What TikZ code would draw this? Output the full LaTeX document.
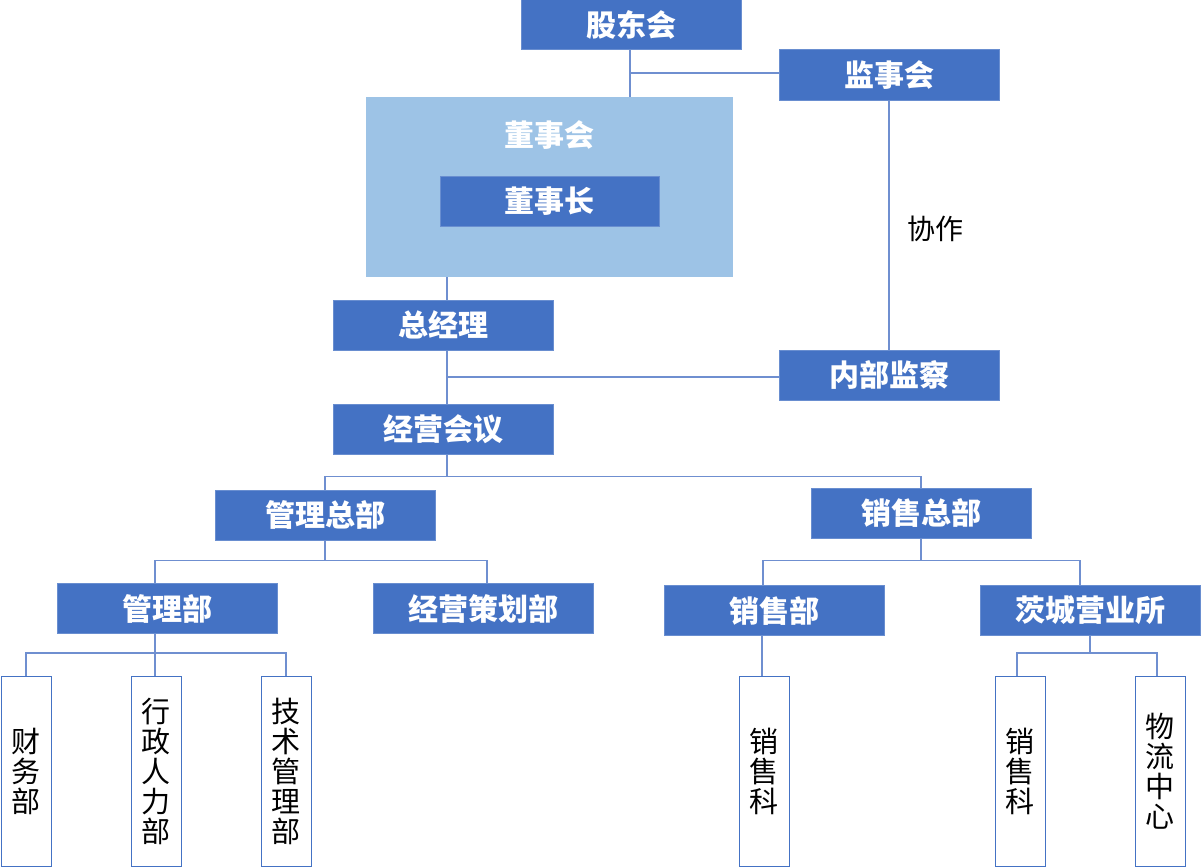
\documentclass[tikz,border=0pt]{standalone}
\usepackage{fontspec}
\newfontfamily\cjk{Noto Sans CJK SC}
\definecolor{boxblue}{HTML}{4472C4}
\definecolor{lightbox}{HTML}{9DC3E6}
\definecolor{linecol}{HTML}{6F8FD0}
\tikzset{
  hbox/.style={fill=boxblue, draw=boxblue!80!white, line width=1pt, text=white,
    font=\cjk\bfseries\fontsize{30}{32}\selectfont, minimum width=220pt,
    minimum height=50pt, inner sep=0pt},
  leaf/.style={fill=white, draw=boxblue, line width=1pt, text=black,
    font=\cjk\fontsize{29}{30}\selectfont, minimum width=50pt,
    minimum height=190pt, align=center, inner sep=0pt},
  conn/.style={draw=linecol, line width=1.3pt}
}
\begin{document}
\begin{tikzpicture}[x=1pt,y=-1pt]
\useasboundingbox[fill=white] (0,0) rectangle (1201,867);
% top
\node[hbox] (gd) at (631,25) {股东会};
\node[hbox] (jsh) at (889,75) {监事会};
\node[fill=lightbox, minimum width=367pt, minimum height=180pt, inner sep=0pt] (dsh) at (549.5,187) {};
\node[text=white, font=\cjk\bfseries\fontsize{30}{32}\selectfont] (dshl) at (549.5,135) {董事会};
\node[hbox, minimum width=219pt] (dsz) at (549.5,201) {董事长};
\node[hbox] (zjl) at (443,325) {总经理};
\node[hbox] (nbjc) at (889,375) {内部监察};
\node[hbox] (jyhy) at (443,429) {经营会议};
\node[text=black, font=\cjk\fontsize{28}{30}\selectfont] (xz) at (935,229) {协作};
% middle
\node[hbox] (glzb) at (325,515) {管理总部};
\node[hbox] (xszb) at (921,513) {销售总部};
\node[hbox] (glb) at (167,608.5) {管理部};
\node[hbox] (jych) at (483,608.5) {经营策划部};
\node[hbox] (xsb) at (774,610.5) {销售部};
\node[hbox] (ccyy) at (1090,610.5) {茨城营业所};
% leaves
\node[leaf] (cwb) at (26,771) {财\\务\\部};
\node[leaf] (xzrl) at (156,771) {行\\政\\人\\力\\部};
\node[leaf] (jsgl) at (286,771) {技\\术\\管\\理\\部};
\node[leaf] (xsk1) at (764,771) {销\\售\\科};
\node[leaf] (xsk2) at (1020,771) {销\\售\\科};
\node[leaf] (wlzx) at (1160,771) {物\\流\\中\\心};
% connectors
\coordinate (gdx) at ([xshift=-1pt]gd.south);
\draw[conn] (gdx) -- (gdx |- dsh.north);
\coordinate (jw) at ([yshift=2pt]jsh.west);
\draw[conn] (jw) -- (jw -| gdx);
\draw[conn] (jsh.south) -- (nbjc.north);
\coordinate (zx) at ([xshift=4pt]zjl.north);
\draw[conn] (zx |- dsh.south) -- (zx);
\draw[conn] ([xshift=4pt]zjl.south) -- ([xshift=4pt]jyhy.north);
\coordinate (nw) at ([yshift=-2pt]nbjc.west);
\draw[conn] (nw) -- (nw -| zx);
\coordinate (jx) at ([xshift=4pt]jyhy.south);
\coordinate (bus1) at ([yshift=-22pt]jx);
\draw[conn] (jx) -- (bus1);
\draw[conn] (glzb.north) |- (bus1) -| (xszb.north);
\coordinate (gx) at ([xshift=-12pt]glb.north);
\coordinate (bus2) at ([yshift=-20pt]glzb.south);
\draw[conn] (glzb.south) -- (bus2);
\draw[conn] (gx) |- (bus2) -| ([xshift=4pt]jych.north);
\coordinate (sx) at ([xshift=-11pt]xsb.north);
\coordinate (bus3) at ([yshift=-22pt]xszb.south);
\draw[conn] (xszb.south) -- (bus3);
\draw[conn] (sx) |- (bus3) -| ([xshift=-10pt]ccyy.north);
\coordinate (gxs) at ([xshift=-12pt]glb.south);
\coordinate (bus4) at ([yshift=-19pt]gxs);
\draw[conn] (gxs) -- (xzrl.north -| gxs);
\draw[conn] (cwb.north) |- (bus4) -| (jsgl.north);
\coordinate (sxs) at ([xshift=-12pt]xsb.south);
\draw[conn] (sxs) -- (sxs |- xsk1.north);
\coordinate (bus5) at ([yshift=-17pt]ccyy.south);
\draw[conn] (ccyy.south) -- (bus5);
\draw[conn] ([xshift=-3pt]xsk2.north) |- (bus5) -| ([xshift=-3pt]wlzx.north);
\end{tikzpicture}
\end{document}
